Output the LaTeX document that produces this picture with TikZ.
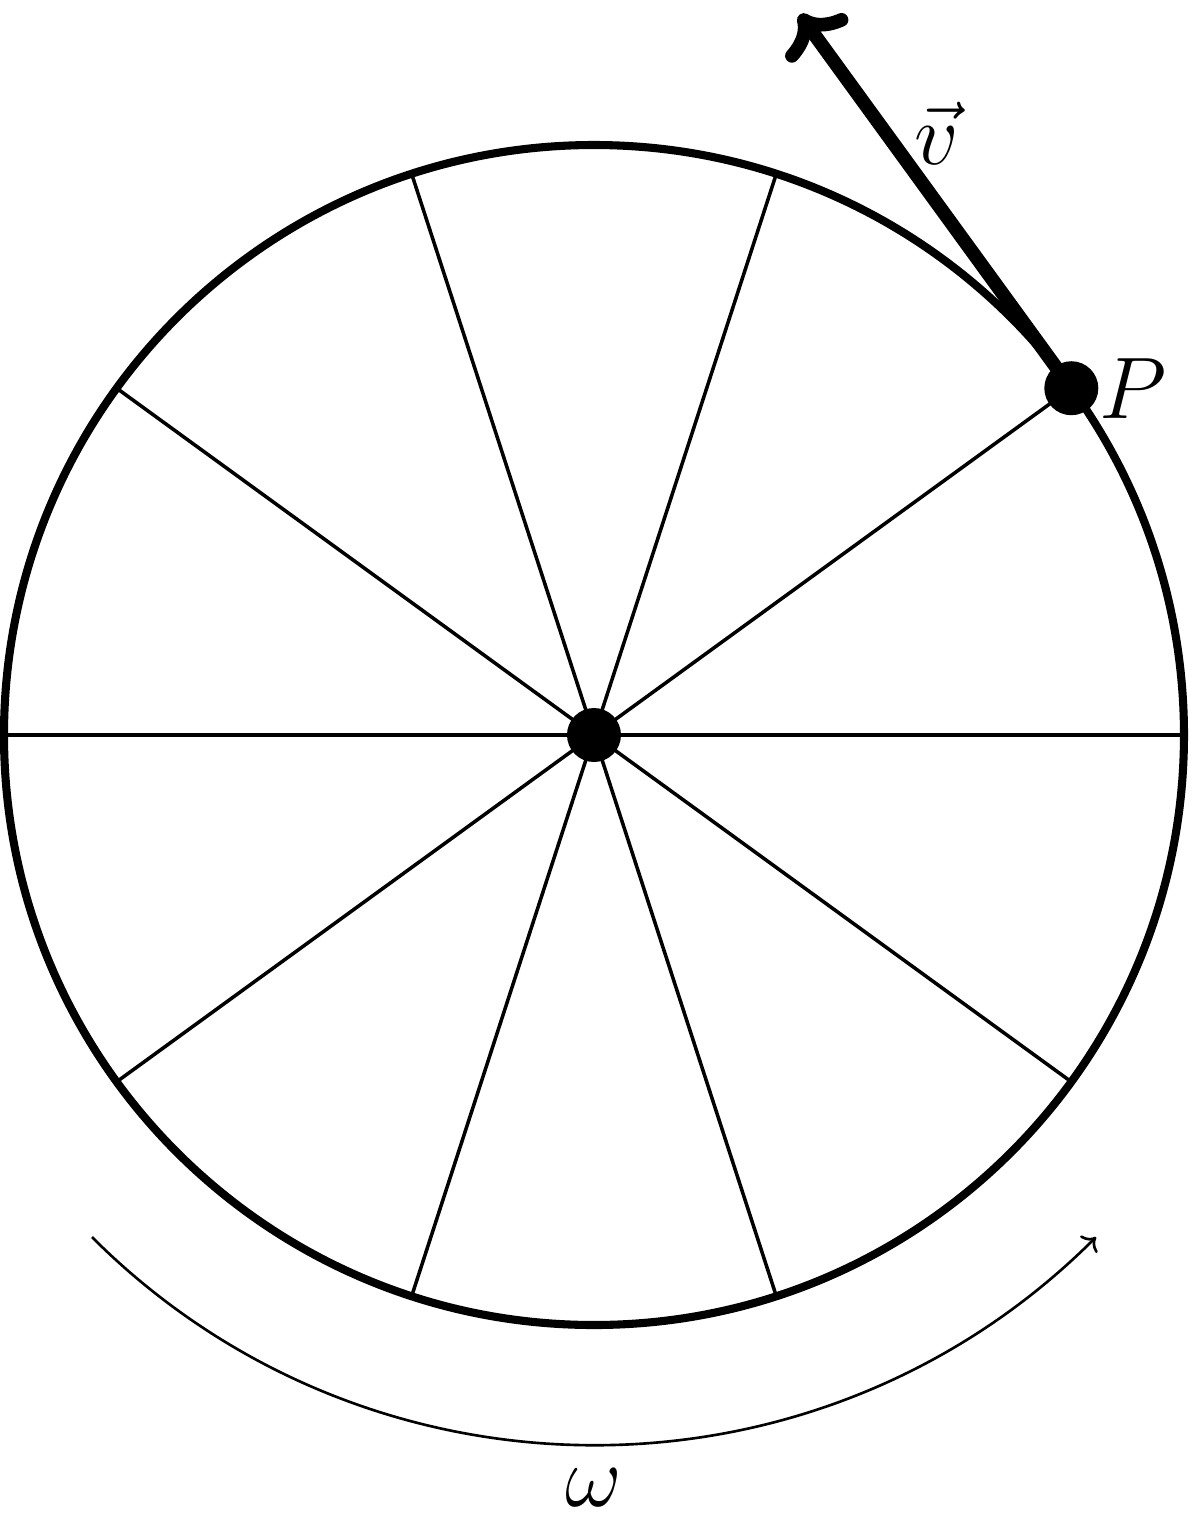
\documentclass[tikz,border=0pt]{standalone}
\usetikzlibrary{arrows.meta,calc}
\begin{document}
\begin{tikzpicture}[
  rim/.style={line width=2.3pt},
  spoke/.style={line width=1pt},
  dotnode/.style={circle,fill=black,inner sep=0pt,minimum size=0.54cm},
  vec/.style={line width=3.9pt,->},
  omegaarc/.style={line width=0.75pt,->},
  lbl/.style={font=\fontsize{24}{28}\selectfont}
]
\useasboundingbox (-5.94,-8.02) rectangle (5.99,7.35);
\coordinate (O) at (0,0);
\draw[rim] (O) circle (5.9);
\foreach \a in {0,36,...,324} {
  \draw[spoke] (O) -- (\a:5.9);
}
\node[dotnode] (C) at (O) {};
\node[dotnode] (P) at (36:5.9) {};
\node[lbl,anchor=west] (Plbl) at ([xshift=-0.12cm]P.east) {$P$};
\coordinate (Vend) at ($(P.center)+(126:4.62)$);
\draw[vec] (P.center) -- (Vend);
\node[lbl] (vlbl) at (3.43,6.02) {$\vec{v}$};
\draw[omegaarc] (225:7.1) arc[start angle=225,end angle=315,radius=7.1];
\node[lbl] (wlbl) at (0,-7.53) {$\omega$};
\end{tikzpicture}
\end{document}
